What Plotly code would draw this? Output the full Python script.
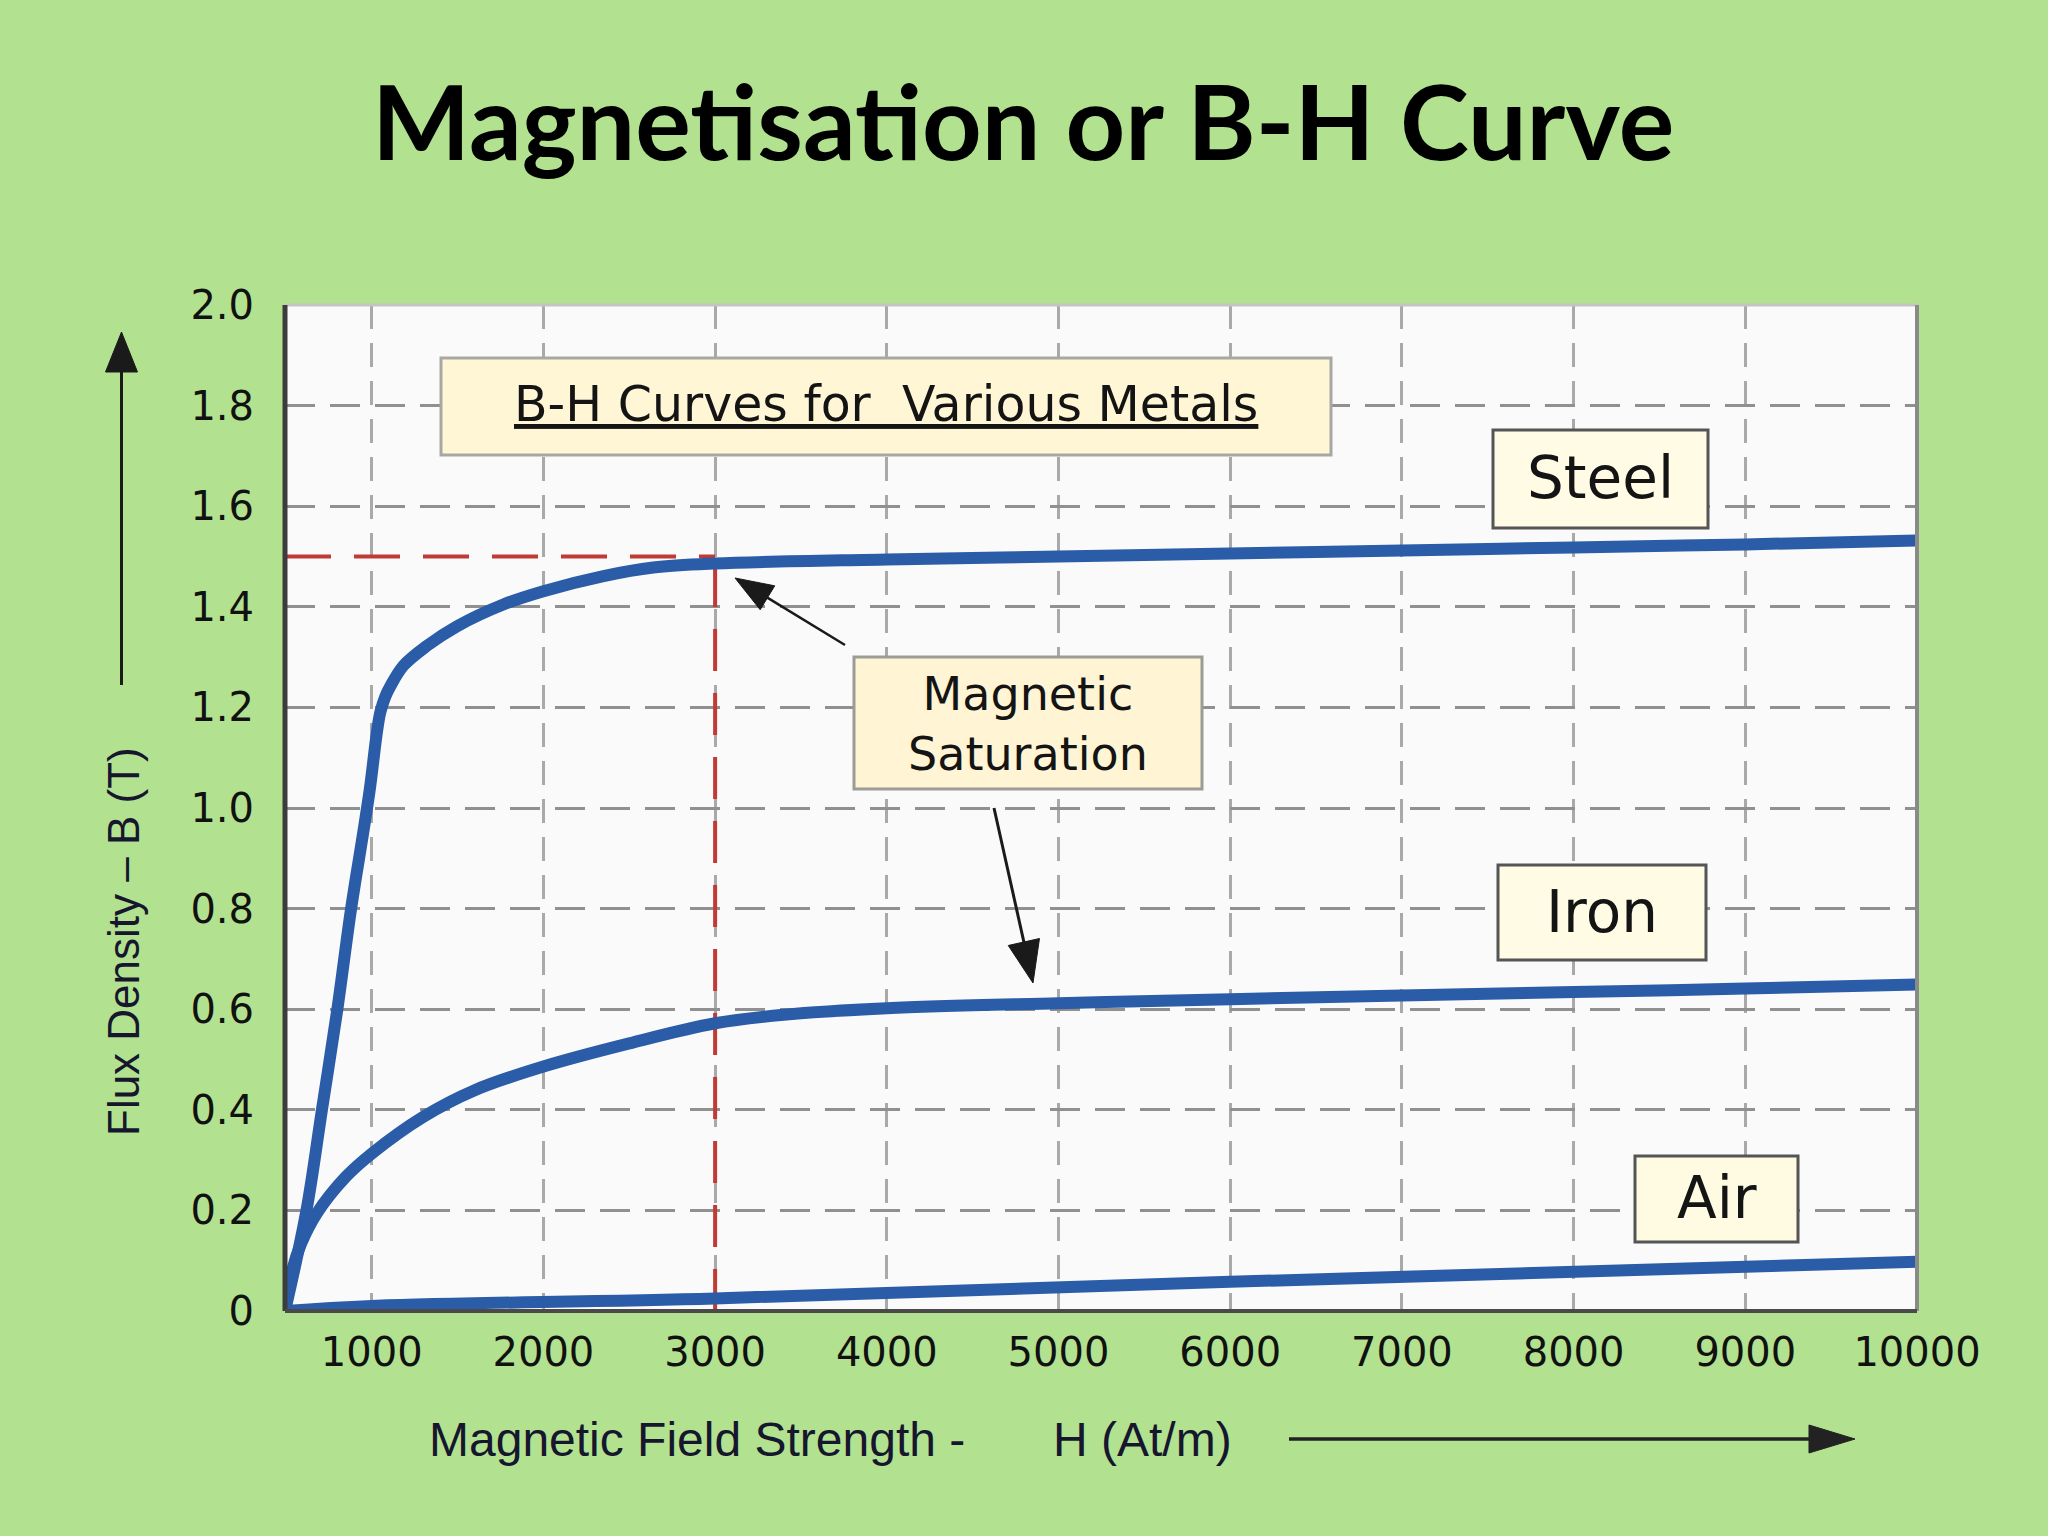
import math
import plotly.graph_objects as go

# ---------------- data ----------------
H_STEEL = [495, 620, 710, 800, 880, 950, 990, 1030, 1050, 1080, 1110, 1185, 1320, 1495, 1770,
           2000, 2350, 2640, 3000, 4000, 5000, 6000, 7000, 8000, 9000, 10000]
B_STEEL = [0.0, 0.20, 0.40, 0.60, 0.80, 0.95, 1.04, 1.15, 1.19, 1.222, 1.243, 1.283, 1.322, 1.361, 1.405,
           1.431, 1.461, 1.478, 1.486, 1.494, 1.500, 1.506, 1.512, 1.518, 1.524, 1.532]

H_IRON = [495, 540, 590, 680, 850, 1000, 1300, 1600, 2000, 2500, 3000, 3400, 4000,
          5000, 6000, 7000, 8000, 9000, 10000]
B_IRON = [0.0, 0.085, 0.135, 0.194, 0.267, 0.313, 0.386, 0.439, 0.486, 0.532, 0.572, 0.589, 0.602,
          0.612, 0.620, 0.627, 0.634, 0.641, 0.649]

H_AIR = [495, 1000, 3000, 6000, 10000]
B_AIR = [0.0, 0.010, 0.025, 0.058, 0.098]

H_SAT = 3000
B_SAT = 1.5

X_TICKS = [1000, 2000, 3000, 4000, 5000, 6000, 7000, 8000, 9000, 10000]
X_TICK_TEXT = ["1000", "2000", "3000", "4000", "5000", "6000", "7000", "8000", "9000", "10000"]
Y_TICKS = [0, 0.2, 0.4, 0.6, 0.8, 1.0, 1.2, 1.4, 1.6, 1.8, 2.0]
Y_TICK_TEXT = ["0", "0.2", "0.4", "0.6", "0.8", "1.0", "1.2", "1.4", "1.6", "1.8", "2.0"]
X_RANGE = [495, 10000]
Y_RANGE = [0, 2.0]

TITLE = "Magnetisation or B-H Curve"
X_TITLE_1 = "Magnetic Field Strength -"
X_TITLE_2 = "H (At/m)"
Y_TITLE = "Flux Density – B (T)"
BOX_TITLE = "B-H Curves for  Various Metals"
SAT_LABEL = "Magnetic<br>Saturation"
LABELS = ["Steel", "Iron", "Air"]

# ---------------- layout geometry ----------------
W, HGT = 2048, 1536
PL, PR, PT, PB = 285, 1917, 305, 1311

BG = "#b2e28f"
CURVE = "#2a5ca8"
RED = "#bf3b35"


def px(x):
    return (x - PL) / (PR - PL)


def py(y):
    return (PB - y) / (PB - PT)


fig = go.Figure()

# saturation guide lines
fig.add_trace(go.Scatter(x=[X_RANGE[0], H_SAT], y=[B_SAT, B_SAT], mode="lines",
                         line=dict(color=RED, width=4, dash="46px,23px"),
                         hoverinfo="skip", showlegend=False))
fig.add_trace(go.Scatter(x=[H_SAT, H_SAT], y=[Y_RANGE[0], B_SAT], mode="lines",
                         line=dict(color=RED, width=4, dash="42px,22px"),
                         hoverinfo="skip", showlegend=False))

for hx, by in [(H_AIR, B_AIR), (H_IRON, B_IRON), (H_STEEL, B_STEEL)]:
    fig.add_trace(go.Scatter(x=hx, y=by, mode="lines",
                             line=dict(color=CURVE, width=12, shape="spline", smoothing=1.0),
                             cliponaxis=False, hoverinfo="skip", showlegend=False))

shapes = []
annotations = []

# plot frame
shapes.append(dict(type="line", xref="paper", yref="paper", x0=0, x1=1, y0=1, y1=1,
                   line=dict(color="#c4c4c4", width=3)))
shapes.append(dict(type="line", xref="paper", yref="paper", x0=1, x1=1, y0=0, y1=1,
                   line=dict(color="#8a8a8a", width=4)))
shapes.append(dict(type="line", xref="paper", yref="paper", x0=0, x1=0, y0=0, y1=1,
                   line=dict(color="#3c3c3c", width=5)))
shapes.append(dict(type="line", xref="paper", yref="paper", x0=0, x1=1, y0=0, y1=0,
                   line=dict(color="#4a4a4a", width=4)))


def box(x0, y0, x1, y1, fill, border, bw=3):
    shapes.append(dict(type="rect", xref="paper", yref="paper",
                       x0=px(x0), x1=px(x1), y0=py(y1), y1=py(y0),
                       fillcolor=fill, line=dict(color=border, width=bw)))


def text(xc, yc, s, size, family="DejaVu Sans", color="#141414", **kw):
    d = dict(xref="paper", yref="paper", x=px(xc), y=py(yc), text=s, showarrow=False,
             xanchor="center", yanchor="middle",
             font=dict(family=family, size=size, color=color))
    d.update(kw)
    annotations.append(d)


def arrow(tail, tip, head_len, head_w, width, color="#1a1a1a"):
    dx, dy = tip[0] - tail[0], tip[1] - tail[1]
    L = math.hypot(dx, dy)
    ux, uy = dx / L, dy / L
    bx, by = tip[0] - ux * head_len, tip[1] - uy * head_len
    shapes.append(dict(type="line", xref="paper", yref="paper",
                       x0=px(tail[0]), y0=py(tail[1]),
                       x1=px(bx + ux * 4), y1=py(by + uy * 4),
                       line=dict(color=color, width=width)))
    nx, ny = -uy, ux
    p1 = (bx + nx * head_w / 2, by + ny * head_w / 2)
    p2 = (bx - nx * head_w / 2, by - ny * head_w / 2)
    path = "M {:.5f},{:.5f} L {:.5f},{:.5f} L {:.5f},{:.5f} Z".format(
        px(tip[0]), py(tip[1]), px(p1[0]), py(p1[1]), px(p2[0]), py(p2[1]))
    shapes.append(dict(type="path", xref="paper", yref="paper", path=path,
                       fillcolor=color, line=dict(color=color, width=1)))


# label boxes
box(441, 358, 1331, 455, "#fff6d6", "#a8a8a2")
box(854, 657, 1202, 789, "#fff5d4", "#9c9c96")
box(1493, 430, 1708, 528, "#fffbe4", "#555555")
box(1498, 865, 1706, 960, "#fffbe4", "#555555")
box(1635, 1156, 1798, 1242, "#fffbe2", "#555555")

text(886, 404, BOX_TITLE, 49, font_lineposition="under")
text(1028, 724, SAT_LABEL, 46)
text(1600, 478, LABELS[0], 58)
text(1602, 912, LABELS[1], 58)
text(1717, 1198, LABELS[2], 58)

# annotation arrows
arrow((845, 645), (735, 578), 38, 28, 2.5)
arrow((994, 808), (1033, 983), 42, 32, 3)
# axis direction arrows
arrow((121.5, 685), (121.5, 332), 40, 32, 3)
arrow((1289, 1439), (1855, 1439), 46, 28, 3.5, color="#222222")

# main title
annotations.append(dict(xref="paper", yref="paper", x=px(1023), y=py(120), text=TITLE,
                        showarrow=False, xanchor="center", yanchor="middle",
                        font=dict(family="Lato", size=104, color="#000000", weight="bold")))

# axis titles
annotations.append(dict(xref="paper", yref="paper", x=px(427), y=py(1439), text=X_TITLE_1,
                        showarrow=False, xanchor="left", yanchor="middle",
                        font=dict(family="Liberation Sans", size=48, color="#16162e")))
annotations.append(dict(xref="paper", yref="paper", x=px(1051), y=py(1439), text=X_TITLE_2,
                        showarrow=False, xanchor="left", yanchor="middle",
                        font=dict(family="Liberation Sans", size=48, color="#16162e")))
annotations.append(dict(xref="paper", yref="paper", x=px(123), y=py(942), text=Y_TITLE,
                        showarrow=False, xanchor="center", yanchor="middle", textangle=-90,
                        font=dict(family="Liberation Sans", size=44, color="#16162e")))

fig.update_layout(
    width=W, height=HGT,
    margin=dict(l=PL, r=W - PR, t=PT, b=HGT - PB),
    paper_bgcolor=BG, plot_bgcolor="#fafafa",
    shapes=shapes, annotations=annotations,
    showlegend=False,
    font=dict(family="DejaVu Sans", color="#111111"),
)

fig.update_xaxes(range=X_RANGE, tickvals=X_TICKS, ticktext=X_TICK_TEXT, ticks="",
                 showgrid=True, gridcolor="#a9a9a9", gridwidth=3, griddash="24px,14px",
                 zeroline=False, showline=False, ticklabelstandoff=14,
                 tickfont=dict(family="DejaVu Sans", size=40, color="#111111"))
fig.update_yaxes(range=Y_RANGE, tickvals=Y_TICKS, ticktext=Y_TICK_TEXT, ticks="",
                 showgrid=True, gridcolor="#909090", gridwidth=3, griddash="30px,15px",
                 zeroline=False, showline=False, ticklabelstandoff=30,
                 tickfont=dict(family="DejaVu Sans", size=40, color="#111111"))

fig.write_html("out.html")
